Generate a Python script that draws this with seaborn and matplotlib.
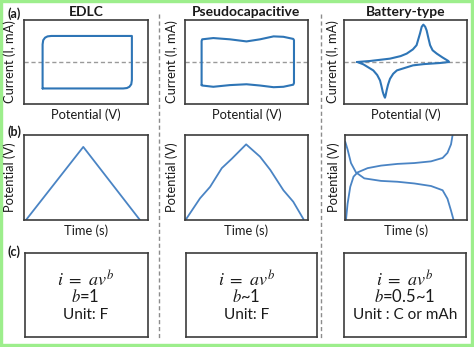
import matplotlib
matplotlib.use("Agg")
import matplotlib.pyplot as plt
import seaborn as sns
import pandas as pd
from matplotlib.lines import Line2D
from matplotlib.patches import Rectangle

# ---------------- data ----------------
col_titles = ["EDLC", "Pseudocapacitive", "Battery-type"]
row_labels = ["(a)", "(b)", "(c)"]
cv_xlabel = "Potential (V)"
cv_ylabel = "Current (I, mA)"
gcd_xlabel = "Time (s)"
gcd_ylabel = "Potential (V)"
eq_text = r"$i\ =\ av^b$"
b_texts = [r"$b$=1", r"$b$~1", r"$b$=0.5~1"]
unit_texts = ["Unit: F", "Unit: F", "Unit : C or mAh"]

# (a) cyclic voltammetry curves (potential, current)
edlc_cv_v = [0.15, 0.15, 0.155, 0.17, 0.19, 0.22, 0.87, 0.87, 0.865, 0.85, 0.83, 0.80, 0.15]
edlc_cv_i = [-0.63, 0.42, 0.52, 0.58, 0.61, 0.62, 0.62, -0.43, -0.53, -0.59, -0.62, -0.63, -0.63]

pseudo_cv_v = [0.135, 0.135, 0.14, 0.23, 0.365, 0.50, 0.61, 0.72, 0.80, 0.88, 0.886,
               0.886, 0.88, 0.80, 0.72, 0.61, 0.50, 0.365, 0.23, 0.14, 0.135]
pseudo_cv_i = [-0.55, 0.50, 0.54, 0.57, 0.54, 0.49, 0.54, 0.61, 0.60, 0.55, 0.52,
               -0.50, -0.54, -0.59, -0.60, -0.56, -0.53, -0.55, -0.59, -0.56, -0.55]

battery_cv_v = [0.108, 0.211, 0.374, 0.46, 0.51, 0.56, 0.59, 0.605, 0.618, 0.632, 0.645,
                0.66, 0.672, 0.686, 0.70, 0.72, 0.754, 0.80, 0.848, 0.854,
                0.78, 0.65, 0.561, 0.43, 0.40, 0.374, 0.358, 0.347, 0.338, 0.333,
                0.325, 0.315, 0.305, 0.293, 0.27, 0.238, 0.157, 0.108]
battery_cv_i = [0.0, 0.024, 0.08, 0.14, 0.2, 0.3, 0.4, 0.55, 0.68, 0.84, 0.89,
                0.84, 0.75, 0.57, 0.4, 0.28, 0.2, 0.11, 0.024, 0.0,
                -0.024, -0.05, -0.08, -0.2, -0.28, -0.4, -0.54, -0.67, -0.8, -0.85,
                -0.8, -0.71, -0.58, -0.44, -0.31, -0.2, -0.055, 0.0]

# (b) galvanostatic charge/discharge (time, potential)
edlc_gcd_t = [0.016, 0.478, 0.935]
edlc_gcd_v = [0.0, 0.86, 0.0]

pseudo_gcd_t = [0.008, 0.122, 0.204, 0.299, 0.38, 0.497, 0.61, 0.693, 0.80, 0.88, 0.964]
pseudo_gcd_v = [0.008, 0.255, 0.39, 0.61, 0.72, 0.89, 0.745, 0.59, 0.35, 0.215, 0.008]

battery_chg_t = [0.008, 0.021, 0.043, 0.07, 0.103, 0.185, 0.295, 0.43, 0.568, 0.705, 0.80, 0.84, 0.869, 0.882]
battery_chg_v = [0.0, 0.19, 0.39, 0.51, 0.56, 0.61, 0.64, 0.66, 0.67, 0.69, 0.73, 0.79, 0.89, 1.0]
battery_dis_t = [0.002, 0.021, 0.049, 0.09, 0.158, 0.295, 0.43, 0.568, 0.705, 0.80, 0.84, 0.869, 0.89]
battery_dis_v = [0.92, 0.83, 0.67, 0.56, 0.49, 0.46, 0.45, 0.43, 0.40, 0.35, 0.25, 0.11, 0.0]

# ---------------- style ----------------
sns.set_style("white")
plt.rcParams["font.family"] = ["Lato", "DejaVu Sans"]
plt.rcParams["mathtext.fontset"] = "stix"

W, H = 474, 347
fig = plt.figure(figsize=(W / 100, H / 100), dpi=100)
fig.patch.set_facecolor("white")

def px_axes(x0, y0, x1, y1):
    return fig.add_axes([x0 / W, 1 - y1 / H, (x1 - x0) / W, (y1 - y0) / H])

cv_color = "#2E75B6"
gcd_color = "#4A84C4"
spine_color = "#3c3c3c"
text_color = "#1a1a1a"

row_a = [(24, 20, 148, 104), (185, 20, 308, 104), (344, 20, 467, 104)]
row_b = [(24, 135, 148, 220), (185, 135, 308, 220), (345, 135, 467, 220)]
row_c = [(25, 253, 148, 337), (186, 253, 317, 337), (344, 253, 466, 337)]
ylab_off = [14, 13, 11]

def style_ax(ax):
    ax.set_xticks([])
    ax.set_yticks([])
    for s in ax.spines.values():
        s.set_color(spine_color)
        s.set_linewidth(1.2)
        s.set_visible(True)
    ax.set_facecolor("white")

def put_labels(ax, box, xl, yl, off):
    x0, y0, x1, y1 = box
    ax.set_xlabel("")
    ax.set_ylabel("")
    fig.text((x0 + x1) / 2 / W, 1 - (y1 + 11) / H, xl, ha="center", va="center",
             fontsize=9.3, color=text_color)
    fig.text((x0 - off) / W, 1 - (y0 + y1) / 2 / H, yl, ha="center", va="center",
             rotation=90, fontsize=9.3, color=text_color)

cv_sets = [(edlc_cv_v, edlc_cv_i), (pseudo_cv_v, pseudo_cv_i), (battery_cv_v, battery_cv_i)]
for k, (box, (vv, ii)) in enumerate(zip(row_a, cv_sets)):
    ax = px_axes(*box)
    style_ax(ax)
    ax.axhline(0, color="#9a9a9a", lw=1.0, ls=(0, (3, 2)), zorder=1)
    df = pd.DataFrame({"v": vv, "i": ii})
    sns.lineplot(data=df, x="v", y="i", sort=False, estimator=None, ax=ax,
                 color=cv_color, lw=1.5, zorder=3)
    ax.set_xlim(0, 1)
    ax.set_ylim(-1, 1)
    put_labels(ax, box, cv_xlabel, cv_ylabel, ylab_off[k])
    fig.text((box[0] + box[2]) / 2 / W, 1 - 12 / H, col_titles[k], ha="center",
             va="center", fontsize=10, fontweight="bold", color=text_color)

gcd_sets = [[(edlc_gcd_t, edlc_gcd_v)], [(pseudo_gcd_t, pseudo_gcd_v)],
            [(battery_chg_t, battery_chg_v), (battery_dis_t, battery_dis_v)]]
for k, (box, curves) in enumerate(zip(row_b, gcd_sets)):
    ax = px_axes(*box)
    style_ax(ax)
    for tt, vv in curves:
        df = pd.DataFrame({"t": tt, "v": vv})
        sns.lineplot(data=df, x="t", y="v", sort=False, estimator=None, ax=ax,
                     color=gcd_color, lw=1.3)
    ax.set_xlim(0, 1)
    ax.set_ylim(0, 1)
    put_labels(ax, box, gcd_xlabel, gcd_ylabel, ylab_off[k])

eq_x = [0.49, 0.46, 0.5]
for k, box in enumerate(row_c):
    ax = px_axes(*box)
    style_ax(ax)
    ax.set_xlim(0, 1)
    ax.set_ylim(0, 1)
    ax.text(eq_x[k], 0.69, eq_text, ha="center", va="center", fontsize=13, color=text_color)
    ax.text(eq_x[k], 0.48, b_texts[k], ha="center", va="center", fontsize=12, color=text_color)
    ax.text(eq_x[k], 0.26, unit_texts[k], ha="center", va="center", fontsize=11, color=text_color)

# row labels
for lab, ypx in zip(row_labels, [14, 132, 252]):
    fig.text(14 / W, 1 - ypx / H, lab, ha="center", va="center", fontsize=9,
             fontweight="bold", color=text_color)

# dashed separators
for xpx in [159, 321]:
    fig.add_artist(Line2D([xpx / W, xpx / W], [1 - 14 / H, 1 - 339 / H],
                          transform=fig.transFigure, color="#8c8c8c", lw=1.0,
                          ls=(0, (3, 2))))

# green frame
fig.add_artist(Rectangle((0, 0), 1, 1, transform=fig.transFigure, fill=False,
                         edgecolor="#9DEE8C", lw=4.6))

fig.savefig("out.png", dpi=100, facecolor="white")
